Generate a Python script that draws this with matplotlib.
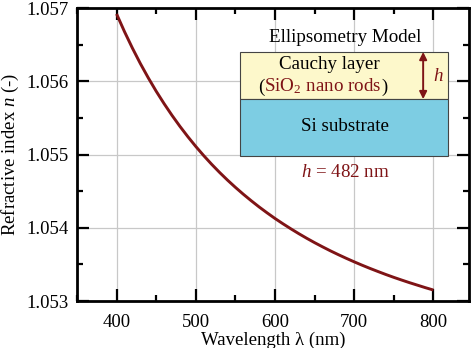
import numpy as np
import matplotlib
matplotlib.use("Agg")
import matplotlib.pyplot as plt
from matplotlib.patches import Rectangle
from matplotlib.ticker import MultipleLocator

plt.rcParams['font.family'] = ['Liberation Serif', 'DejaVu Serif']
plt.rcParams['mathtext.fontset'] = 'custom'
plt.rcParams['mathtext.rm'] = 'Liberation Serif'
plt.rcParams['mathtext.it'] = 'Liberation Serif:italic'

# values (every 10 nm)
wavelength = list(range(400, 801, 10))
n_index = [1.056919, 1.056677, 1.056452, 1.056242, 1.056047, 1.055864,
           1.055694, 1.055534, 1.055384, 1.055243, 1.055110, 1.054985,
           1.054867, 1.054756, 1.054651, 1.054552, 1.054458, 1.054369,
           1.054284, 1.054204, 1.054127, 1.054055, 1.053986, 1.053920,
           1.053857, 1.053797, 1.053740, 1.053685, 1.053633, 1.053583,
           1.053535, 1.053489, 1.053445, 1.053403, 1.053362, 1.053323,
           1.053286, 1.053250, 1.053216, 1.053182, 1.053150]
x_ticks = [400, 500, 600, 700, 800]
y_ticks = [1.053, 1.054, 1.055, 1.056, 1.057]

dark_red = '#7f1416'
fs = 13.5
fs_in = 13.7

fig = plt.figure(figsize=(4.74, 3.48), dpi=100)
ax = fig.add_axes([0.1624, 0.135, 0.8271, 0.842])

ax.plot(wavelength, n_index, color=dark_red, lw=2.1, zorder=3,
        solid_capstyle='butt', solid_joinstyle='round')

ax.set_xlim(350, 845)
ax.set_ylim(1.053, 1.057)
ax.set_xticks(x_ticks)
ax.set_yticks(y_ticks)
ax.set_yticklabels(['%.3f' % v for v in y_ticks])
ax.xaxis.set_minor_locator(MultipleLocator(50))
ax.yaxis.set_minor_locator(MultipleLocator(0.0005))
ax.tick_params(which='both', direction='in', top=True, right=True,
               labelsize=fs, width=1.6, color='black')
ax.tick_params(axis='x', pad=9)
ax.tick_params(axis='y', pad=6)
ax.tick_params(which='major', length=8.5)
ax.tick_params(which='minor', length=4.5)
for s in ax.spines.values():
    s.set_linewidth(2.0)
ax.grid(True, which='major', color='#c8c8c8', lw=0.9)
ax.set_axisbelow(True)

ax.set_xlabel('Wavelength \u03bb (nm)', fontsize=fs, labelpad=1)
ax.set_ylabel('Refractive index $n$ (-)', fontsize=fs, labelpad=4)

# inset: ellipsometry model
tr = ax.transAxes
ax.add_patch(Rectangle((0.416, 0.689), 0.530, 0.161, transform=tr,
                       facecolor='#fdf8cb', edgecolor='#444444', lw=0.8, zorder=4))
ax.add_patch(Rectangle((0.416, 0.495), 0.530, 0.194, transform=tr,
                       facecolor='#7dcde3', edgecolor='#444444', lw=0.8, zorder=4))
ax.text(0.684, 0.898, 'Ellipsometry Model', transform=tr, ha='center',
        va='center', fontsize=fs_in, zorder=5)
ax.text(0.645, 0.806, 'Cauchy layer', transform=tr, ha='center',
        va='center', fontsize=fs_in, zorder=5)
t1 = ax.text(0.462, 0.713, '(', transform=tr, ha='left', va='baseline',
             fontsize=fs_in, zorder=5)
t2 = ax.annotate('SiO$_2$ nano rods', xycoords=t1, xy=(1, 0), va='bottom',
                 fontsize=fs_in, color=dark_red, zorder=5)
ax.annotate(')', xycoords=t2, xy=(1, 0), va='bottom', fontsize=fs_in,
            zorder=5)
ax.annotate('', xy=(0.883, 0.850), xytext=(0.883, 0.689), xycoords=tr,
            textcoords=tr, zorder=6,
            arrowprops=dict(arrowstyle='<|-|>', color=dark_red, lw=1.4,
                            shrinkA=0, shrinkB=0, mutation_scale=11))
ax.text(0.921, 0.765, '$h$', transform=tr, ha='center', va='center',
        fontsize=fs_in, color=dark_red, zorder=5)
ax.text(0.684, 0.594, 'Si substrate', transform=tr, ha='center',
        va='center', fontsize=fs_in, zorder=5)
ax.text(0.684, 0.437, '$h$ = 482 nm', transform=tr, ha='center',
        va='center', fontsize=fs_in, color=dark_red, zorder=5)

fig.savefig('out.png', dpi=100)
